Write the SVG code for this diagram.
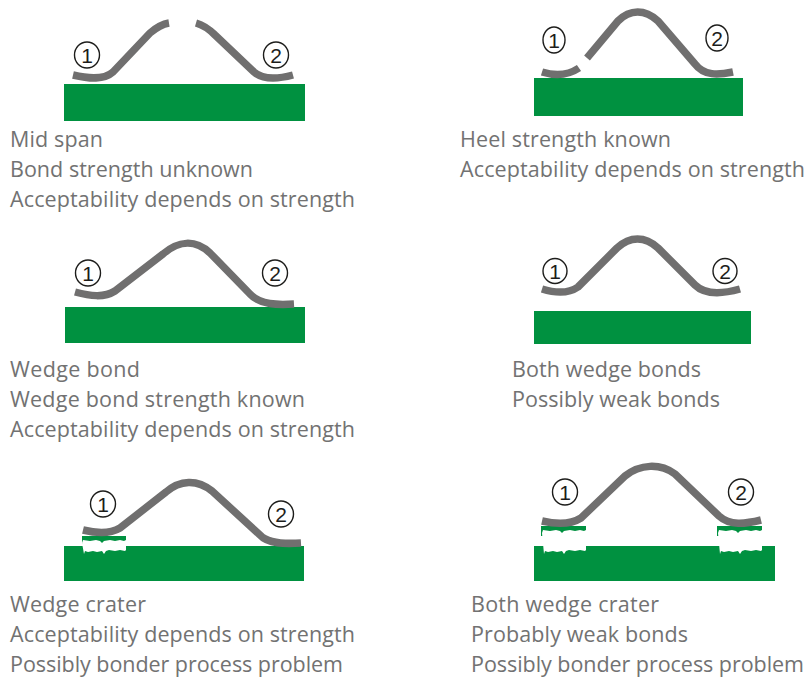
<svg xmlns="http://www.w3.org/2000/svg" width="812" height="685" viewBox="0 0 812 685">
<style>
.pad{fill:#009140}
.w{fill:none;stroke:#706f6f;stroke-width:7.5;stroke-linejoin:round}
.c{fill:#fff;stroke:#1d1d1b;stroke-width:1.4}
.n{font:21px "Liberation Sans",Arial,sans-serif;fill:#1d1d1b;text-anchor:middle}
.t{font:21.5px "Open Sans","Noto Sans",sans-serif;fill:#727272}
.g{fill:#fff}
</style>
<defs>
<path id="jag-s" d="M0 3l1-3 7 1 6-1 4 1 2 2 2-2 6-1 5 1 5-1 4 1 2-1V10l-1 1-5-1-5 1-6-1-3 1-2 3-2-3-5 1-4-1-5 1-3-1-1 3z"/>
<path id="jag-l" d="M0 3l1-3 7 1 6-1 4 1 2 2 2-2 6-1 5 1 5-1 4 1 2-1V20l-1 1-5-1-5 1-6-1-3 1-2 3-2-3-5 1-4-1-5 1-3-1-1 3z"/>
</defs>
<rect width="812" height="685" fill="#fff"/>
<g id="panel-mid-span">
<rect class="pad" x="64" y="84" width="241" height="37"/>
<path class="w" d="M73 75C90 79 104 80 113 72L150 33C157 27 163 24 169 23"/>
<path class="w" d="M196 23C203 25 209 29 215 35L254 72C263 80 278 79 293 75"/>
<ellipse class="c" cx="87" cy="55" rx="12.5" ry="13"/><text class="n" x="87" y="62.500">1</text>
<ellipse class="c" cx="276" cy="55" rx="12.5" ry="13"/><text class="n" x="276" y="62.500">2</text>
<text class="t" x="10" y="147" textLength="93">Mid span</text>
<text class="t" x="10" y="177" textLength="243">Bond strength unknown</text>
<text class="t" x="10" y="207" textLength="345">Acceptability depends on strength</text>
</g>
<g id="panel-heel">
<rect class="pad" x="534" y="78" width="209" height="38"/>
<path class="w" d="M542 72C555 76 567 76 579 68"/>
<path class="w" d="M587 58L618 21C630 9 645 9 658 21L695 64C704 76 718 75 733 72"/>
<ellipse class="c" cx="554" cy="40" rx="11" ry="13"/><text class="n" x="554" y="47.500">1</text>
<ellipse class="c" cx="717" cy="38" rx="11" ry="13"/><text class="n" x="717" y="45.500">2</text>
<text class="t" x="460" y="147" textLength="211">Heel strength known</text>
<text class="t" x="460" y="177" textLength="345">Acceptability depends on strength</text>
</g>
<g id="panel-wedge">
<rect class="pad" x="65" y="307" width="240" height="36"/>
<path class="w" d="M75 292C90 296 104 298 115 291L163 254C178 241 195 239 210 253L250 294C260 305 278 305 294 304"/>
<ellipse class="c" cx="88" cy="273" rx="12.5" ry="13"/><text class="n" x="88" y="280.500">1</text>
<ellipse class="c" cx="275" cy="273" rx="12.5" ry="13"/><text class="n" x="275" y="280.500">2</text>
<text class="t" x="10" y="377" textLength="130">Wedge bond</text>
<text class="t" x="10" y="407" textLength="295">Wedge bond strength known</text>
<text class="t" x="10" y="437" textLength="345">Acceptability depends on strength</text>
</g>
<g id="panel-both-wedge">
<rect class="pad" x="534" y="311" width="217" height="33"/>
<path class="w" d="M542 289C555 293 568 294 578 287L617 248C630 236 645 236 658 248L695 285C705 295 722 294 740 289"/>
<ellipse class="c" cx="555" cy="271" rx="12" ry="12.5"/><text class="n" x="555" y="278.500">1</text>
<ellipse class="c" cx="725" cy="271" rx="12" ry="12.5"/><text class="n" x="725" y="278.500">2</text>
<text class="t" x="512" y="377" textLength="189">Both wedge bonds</text>
<text class="t" x="512" y="407" textLength="208">Possibly weak bonds</text>
</g>
<g id="panel-wedge-crater">
<rect class="pad" x="64" y="546" width="240" height="35"/>
<rect class="pad" x="82" y="536" width="44" height="8"/>
<use href="#jag-s" x="82" y="540" class="g"/>
<path class="w" d="M83 530C95 533 110 534 120 528L166 492C180 480 197 479 212 491L260 535C268 544 285 544 301 543"/>
<ellipse class="c" cx="103" cy="504" rx="12.5" ry="13"/><text class="n" x="103" y="511.500">1</text>
<ellipse class="c" cx="281" cy="514" rx="12.5" ry="13"/><text class="n" x="281" y="521.500">2</text>
<text class="t" x="10" y="612" textLength="136">Wedge crater</text>
<text class="t" x="10" y="642" textLength="345">Acceptability depends on strength</text>
<text class="t" x="10" y="672" textLength="333">Possibly bonder process problem</text>
</g>
<g id="panel-both-crater">
<rect class="pad" x="534" y="546" width="241" height="35"/>
<rect class="pad" x="541" y="526" width="45" height="10"/>
<rect class="pad" x="717" y="526" width="45" height="10"/>
<use href="#jag-l" x="542" y="530" class="g"/>
<use href="#jag-l" x="718" y="530" class="g"/>
<path class="w" d="M542 521C555 524 570 525 581 518L625 476C640 464 660 463 675 474L719 516C730 526 745 524 761 520"/>
<ellipse class="c" cx="565" cy="492" rx="12.5" ry="13"/><text class="n" x="565" y="499.500">1</text>
<ellipse class="c" cx="741" cy="492" rx="12.5" ry="13"/><text class="n" x="741" y="499.500">2</text>
<text class="t" x="471" y="612" textLength="188">Both wedge crater</text>
<text class="t" x="471" y="642" textLength="217">Probably weak bonds</text>
<text class="t" x="471" y="672" textLength="333">Possibly bonder process problem</text>
</g>
</svg>
